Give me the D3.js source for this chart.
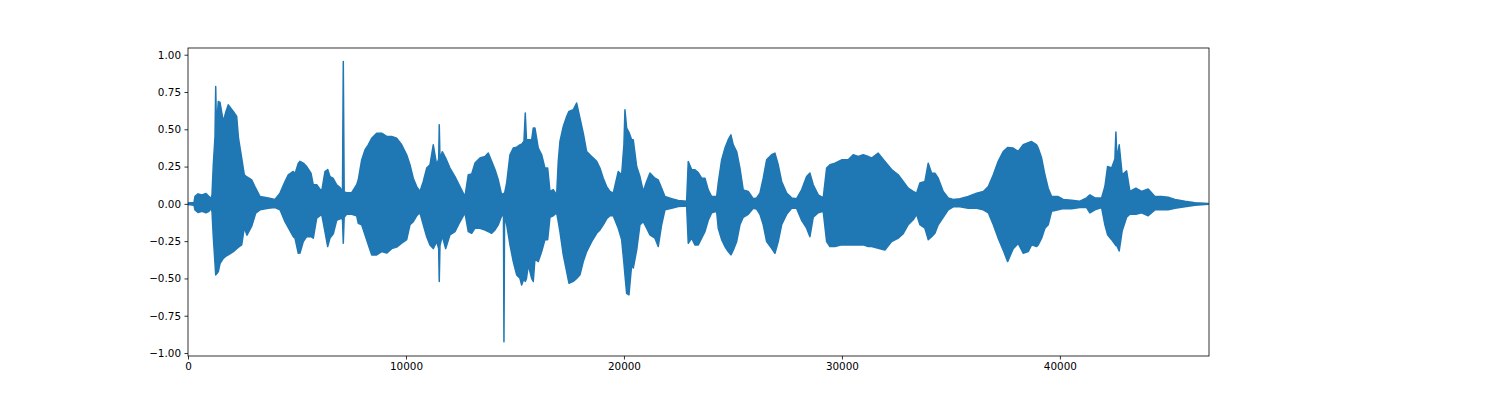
<!DOCTYPE html>
<html>
<head>
<meta charset="utf-8">
<script src="https://cdn.jsdelivr.net/npm/d3@7"></script>
<style>
  html, body { margin: 0; padding: 0; background: #ffffff; }
  svg { display: block; }
  .tick text { font-family: "DejaVu Sans", sans-serif; font-size: 10.4px; fill: #000; }
</style>
</head>
<body>
<svg id="chart" width="1500" height="400"></svg>
<script>
// Sample index (x) of each envelope point
const sampleIdx = [
  0, 275, 321, 459, 642, 826, 963, 1032, 1101, 1160, 1239, 1271, 1307, 1390, 1468, 1619, 1743, 1849, 1972, 2078,
  2234, 2316, 2463, 2583, 2706, 2922, 3105, 3303, 3683, 3991, 4220, 4450, 4601, 4830, 4908, 5060, 5138, 5289, 5445, 5642,
  5748, 5904, 6133, 6284, 6408, 6514, 6665, 6821, 6972, 7087, 7124, 7165, 7280, 7509, 7738, 7812, 7968, 8119, 8271, 8427,
  8656, 8885, 9115, 9344, 9573, 9803, 10032, 10183, 10335, 10491, 10642, 10794, 10950, 11101, 11252, 11408, 11500, 11527, 11560, 11665,
  11821, 12018, 12248, 12477, 12706, 12858, 13014, 13165, 13394, 13624, 13775, 13931, 14083, 14234, 14390, 14472, 14495, 14523, 14619, 14771,
  14922, 15078, 15229, 15307, 15413, 15473, 15528, 15610, 15766, 15840, 15917, 16069, 16225, 16376, 16500, 16606, 16757, 16913, 16987, 17064,
  17216, 17372, 17477, 17674, 17830, 17982, 18133, 18289, 18518, 18748, 18899, 19050, 19206, 19358, 19509, 19739, 19894, 20000, 20046, 20124,
  20229, 20353, 20427, 20583, 20734, 20885, 21041, 21193, 21422, 21573, 21729, 21881, 22188, 22491, 22876, 22950, 23106, 23257, 23409, 23564,
  23716, 23867, 24023, 24252, 24326, 24482, 24633, 24784, 24908, 25014, 25170, 25321, 25472, 25702, 25931, 26087, 26239, 26390, 26546, 26775,
  26927, 27078, 27234, 27463, 27693, 27922, 28151, 28380, 28532, 28683, 28913, 29142, 29298, 29450, 29679, 29986, 30289, 30518, 30747, 30977,
  31206, 31362, 31665, 31972, 32279, 32582, 32812, 33041, 33270, 33426, 33578, 33807, 33959, 34115, 34266, 34417, 34647, 34876, 35106, 35413,
  35794, 36179, 36486, 36716, 36945, 37170, 37399, 37601, 37858, 38087, 38316, 38546, 38702, 38931, 39004, 39161, 39312, 39463, 39619, 39922,
  40151, 40537, 40917, 41225, 41376, 41606, 41913, 42064, 42188, 42372, 42523, 42569, 42615, 42720, 42858, 43060, 43211, 43486, 43748, 44050,
  44358, 44665, 44968, 45275, 45734, 46193, 46803
];
// Upper envelope (max amplitude) at each point
const upperEnv = [
  0.005, 0.01, 0.05, 0.067, 0.06, 0.07, 0.05, 0.03, 0.06, 0.26, 0.45, 0.787, 0.50, 0.687, 0.68, 0.552, 0.62, 0.664, 0.64, 0.62,
  0.586, 0.44, 0.307, 0.195, 0.18, 0.161, 0.105, 0.049, 0.04, 0.03, 0.072, 0.15, 0.195, 0.217, 0.20, 0.273, 0.285, 0.273, 0.25, 0.206,
  0.128, 0.128, 0.083, 0.217, 0.23, 0.183, 0.17, 0.128, 0.11, 0.08, 0.955, 0.08, 0.075, 0.075, 0.128, 0.161, 0.295, 0.362, 0.396, 0.44,
  0.474, 0.474, 0.452, 0.452, 0.44, 0.396, 0.329, 0.262, 0.172, 0.116, 0.083, 0.15, 0.24, 0.262, 0.396, 0.262, 0.30, 0.53, 0.30, 0.35,
  0.307, 0.24, 0.183, 0.116, 0.049, 0.195, 0.20, 0.273, 0.307, 0.318, 0.34, 0.285, 0.23, 0.161, 0.06, 0.07, 0.07, 0.07, 0.14, 0.329,
  0.374, 0.38, 0.396, 0.40, 0.42, 0.609, 0.43, 0.43, 0.43, 0.508, 0.508, 0.374, 0.329, 0.24, 0.24, 0.083, 0.095, 0.06, 0.285, 0.418,
  0.519, 0.586, 0.62, 0.631, 0.676, 0.575, 0.474, 0.351, 0.318, 0.285, 0.24, 0.172, 0.116, 0.083, 0.072, 0.217, 0.195, 0.40, 0.631, 0.508,
  0.48, 0.43, 0.43, 0.25, 0.183, 0.083, 0.15, 0.206, 0.172, 0.16, 0.105, 0.049, 0.035, 0.022, 0.018, 0.284, 0.23, 0.228, 0.21, 0.172,
  0.172, 0.094, 0.049, 0.049, 0.14, 0.295, 0.374, 0.43, 0.463, 0.396, 0.351, 0.24, 0.094, 0.083, 0.035, 0.04, 0.072, 0.172, 0.295, 0.329,
  0.34, 0.262, 0.15, 0.072, 0.04, 0.035, 0.094, 0.183, 0.206, 0.128, 0.06, 0.04, 0.24, 0.262, 0.273, 0.295, 0.295, 0.329, 0.318, 0.329,
  0.318, 0.307, 0.34, 0.285, 0.23, 0.195, 0.15, 0.105, 0.083, 0.072, 0.14, 0.15, 0.273, 0.206, 0.206, 0.172, 0.083, 0.04, 0.03, 0.035,
  0.049, 0.072, 0.083, 0.116, 0.195, 0.285, 0.351, 0.378, 0.374, 0.351, 0.396, 0.41, 0.418, 0.396, 0.374, 0.307, 0.195, 0.105, 0.049, 0.049,
  0.03, 0.025, 0.018, 0.04, 0.06, 0.04, 0.04, 0.116, 0.25, 0.24, 0.30, 0.481, 0.30, 0.396, 0.195, 0.221, 0.083, 0.105, 0.083, 0.10,
  0.05, 0.05, 0.045, 0.03, 0.018, 0.008, 0.003
];
// Lower envelope (min amplitude) at each point
const lowerEnv = [
  -0.005, -0.01, -0.04, -0.058, -0.05, -0.06, -0.05, -0.03, -0.05, -0.22, -0.40, -0.476, -0.47, -0.454, -0.40, -0.365, -0.35, -0.342, -0.33, -0.32,
  -0.30, -0.29, -0.275, -0.16, -0.21, -0.15, -0.063, -0.04, -0.03, -0.025, -0.04, -0.119, -0.16, -0.22, -0.23, -0.331, -0.33, -0.253, -0.22, -0.22,
  -0.23, -0.096, -0.07, -0.186, -0.286, -0.23, -0.20, -0.11, -0.10, -0.10, -0.264, -0.09, -0.07, -0.07, -0.08, -0.13, -0.14, -0.208, -0.275, -0.342,
  -0.342, -0.32, -0.33, -0.30, -0.29, -0.264, -0.24, -0.14, -0.119, -0.08, -0.06, -0.14, -0.22, -0.275, -0.30, -0.253, -0.30, -0.52, -0.28, -0.215,
  -0.30, -0.208, -0.186, -0.12, -0.06, -0.186, -0.197, -0.163, -0.163, -0.175, -0.186, -0.197, -0.175, -0.14, -0.08, -0.08, -0.924, -0.08, -0.14, -0.275,
  -0.387, -0.476, -0.499, -0.544, -0.50, -0.52, -0.50, -0.41, -0.499, -0.52, -0.37, -0.387, -0.32, -0.24, -0.24, -0.09, -0.08, -0.06, -0.119, -0.186,
  -0.342, -0.454, -0.532, -0.52, -0.50, -0.476, -0.387, -0.32, -0.253, -0.197, -0.175, -0.141, -0.10, -0.08, -0.08, -0.163, -0.24, -0.40, -0.476, -0.60,
  -0.61, -0.41, -0.43, -0.31, -0.14, -0.12, -0.163, -0.208, -0.23, -0.286, -0.14, -0.04, -0.03, -0.018, -0.015, -0.264, -0.23, -0.275, -0.275, -0.23,
  -0.186, -0.11, -0.06, -0.05, -0.163, -0.24, -0.286, -0.32, -0.342, -0.31, -0.253, -0.14, -0.09, -0.07, -0.03, -0.035, -0.07, -0.14, -0.253, -0.298,
  -0.331, -0.253, -0.14, -0.07, -0.03, -0.03, -0.11, -0.163, -0.22, -0.09, -0.06, -0.05, -0.253, -0.286, -0.286, -0.275, -0.275, -0.275, -0.275, -0.275,
  -0.286, -0.286, -0.298, -0.31, -0.253, -0.23, -0.20, -0.14, -0.107, -0.07, -0.14, -0.163, -0.24, -0.22, -0.197, -0.14, -0.09, -0.04, -0.02, -0.02,
  -0.03, -0.03, -0.04, -0.06, -0.14, -0.23, -0.31, -0.387, -0.30, -0.265, -0.331, -0.32, -0.275, -0.286, -0.275, -0.23, -0.163, -0.14, -0.05, -0.04,
  -0.032, -0.032, -0.025, -0.025, -0.06, -0.04, -0.025, -0.14, -0.208, -0.24, -0.27, -0.28, -0.28, -0.316, -0.18, -0.09, -0.07, -0.07, -0.06, -0.08,
  -0.04, -0.04, -0.04, -0.03, -0.02, -0.01, -0.003
];
const xTickValues = [0, 10000, 20000, 30000, 40000];
const yTickValues = [-1.00, -0.75, -0.50, -0.25, 0.00, 0.25, 0.50, 0.75, 1.00];
const xMax = 46840;
const yDomain = [-1.02, 1.045];

const margin = { left: 188, right: 1500 - 1209, top: 48, bottom: 400 - 356 };
const W = 1500, H = 400;
const iw = W - margin.left - margin.right;
const ih = H - margin.top - margin.bottom;

const svg = d3.select("#chart");
const g = svg.append("g").attr("transform", `translate(${margin.left},${margin.top})`);

const x = d3.scaleLinear().domain([0, xMax]).range([0, iw]);
const y = d3.scaleLinear().domain(yDomain).range([ih, 0]);

const data = sampleIdx.map((s, i) => ({ s, hi: upperEnv[i], lo: lowerEnv[i] }));

g.append("defs").append("clipPath").attr("id", "clip")
  .append("rect").attr("width", iw).attr("height", ih);

const area = d3.area()
  .x(d => x(d.s))
  .y0(d => y(d.lo))
  .y1(d => y(d.hi));

g.append("path")
  .datum(data)
  .attr("clip-path", "url(#clip)")
  .attr("d", area)
  .attr("fill", "#1f77b4")
  .attr("stroke", "#1f77b4")
  .attr("stroke-width", 1.5)
  .attr("stroke-linejoin", "round");

const fmtY = v => d3.format(".2f")(v).replace("-", "\u2212");

const xAxis = d3.axisBottom(x).tickValues(xTickValues).tickFormat(d3.format("d"))
  .tickSizeInner(3.5).tickSizeOuter(0).tickPadding(3.5);
const yAxis = d3.axisLeft(y).tickValues(yTickValues).tickFormat(fmtY)
  .tickSizeInner(3.5).tickSizeOuter(0).tickPadding(3.5);

const gx = g.append("g").attr("class", "x axis").attr("transform", `translate(0,${ih})`).call(xAxis);
const gy = g.append("g").attr("class", "y axis").call(yAxis);
[gx, gy].forEach(a => {
  a.select(".domain").remove();
  a.selectAll(".tick line").attr("stroke", "#000").attr("stroke-width", 0.8);
  a.selectAll(".tick text").attr("fill", "#000");
});

// Axes frame
g.append("rect")
  .attr("x", 0).attr("y", 0).attr("width", iw).attr("height", ih)
  .attr("fill", "none").attr("stroke", "#000").attr("stroke-width", 0.8);
</script>
</body>
</html>
